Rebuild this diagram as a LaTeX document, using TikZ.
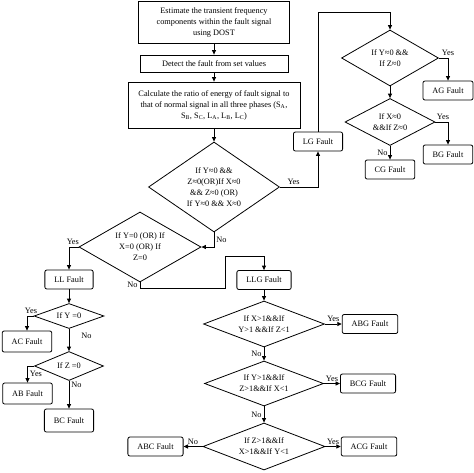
\documentclass[tikz,border=0pt]{standalone}
\usepackage{fontspec}
\setmainfont{Liberation Serif}
\usepackage{tikz}
\usetikzlibrary{arrows.meta}
\usetikzlibrary{shapes.geometric}
\tikzstyle{base}=[font=\fontsize{8.3}{11}\selectfont, align=center]
\tikzstyle{proc}=[base, draw, line width=.8pt, inner sep=0pt]
\tikzstyle{fault}=[base, draw, line width=.8pt, rounded corners=2pt, inner xsep=9.5pt, inner ysep=0pt, minimum height=19pt]
\tikzstyle{decision}=[base, draw, diamond, line width=.8pt, inner sep=0pt]
\tikzstyle{lbl}=[font=\fontsize{8.3}{11}\selectfont, inner sep=2pt]
\tikzstyle{flowhead}=[>/.tip={Triangle[length=4.5pt,width=4pt]}]
\tikzstyle{flow}=[line width=.8pt, flowhead, ->]

\begin{document}
\begin{tikzpicture}[x=1pt, y=-1pt]
	\useasboundingbox (0,0) rectangle (474,472);
	% main column
	\node[proc, minimum width=151pt, minimum height=42pt] (est) at (214,22) {Estimate the transient frequency\\components within the fault signal\\using DOST};
	\node[proc, minimum width=148pt, minimum height=17pt] (det) at (214,63.5) {Detect the fault from set values};
	\node[proc, minimum width=172pt, minimum height=46pt] (calc) at (214,105) {Calculate the ratio of energy of fault signal to\\that of normal signal in all three phases (S\textsubscript{A},\\S\textsubscript{B}, S\textsubscript{C}, L\textsubscript{A}, L\textsubscript{B}, L\textsubscript{C})};
	\node[decision, minimum width=131pt, minimum height=90pt, aspect=1.46] (d1) at (214,187) {If Y≈0 \&\&\\Z≈0(OR)If X≈0\\\&\& Z≈0 (OR)\\If Y≈0 \&\& X≈0};
	% LG branch
	\node[fault] (lg) at (318,141.5) {LG Fault};
	\node[decision, minimum width=97pt, minimum height=56pt, aspect=1.73] (d2) at (390,58) {If Y≈0 \&\&\\If Z≈0};
	\node[fault] (ag) at (448,90.5) {AG Fault};
	\node[decision, minimum width=90pt, minimum height=47pt, aspect=1.9] (d3) at (390,122) {If X≈0\\\&\&If Z≈0};
	\node[fault] (bg) at (448,154.5) {BG Fault};
	\node[fault] (cg) at (390,169.5) {CG Fault};
	% LL branch
	\node[decision, minimum width=122pt, minimum height=70pt, aspect=1.74] (d4) at (140,247) {If Y=0 (OR) If\\X=0 (OR) If\\Z=0};
	\node[fault] (ll) at (69,279.5) {LL Fault};
	\node[decision, minimum width=70pt, minimum height=25pt, aspect=2.8] (d5) at (69,316) {If Y =0};
	\node[fault, minimum height=21pt] (ac) at (27,341.5) {AC Fault};
	\node[decision, minimum width=69pt, minimum height=29pt, aspect=2.4] (d6) at (69,366) {If Z =0};
	\node[fault, minimum height=21pt] (ab) at (27.5,393.5) {AB Fault};
	\node[fault, minimum height=23pt] (bc) at (69,420.5) {BC Fault};
	% LLG branch
	\node[fault] (llg) at (264,280) {LLG Fault};
	\node[decision, minimum width=121pt, minimum height=46pt, aspect=2.63] (d7) at (264,324) {If X>1\&\&If\\Y>1 \&\&If Z<1};
	\node[fault] (abg) at (370,324) {ABG Fault};
	\node[decision, minimum width=119pt, minimum height=45pt, aspect=2.64] (d8) at (264,383.5) {If Y>1\&\&If\\Z>1\&\&If X<1};
	\node[fault] (bcg) at (368,383.5) {BCG Fault};
	\node[decision, minimum width=122pt, minimum height=47pt, aspect=2.6] (d9) at (264,446.5) {If Z>1\&\&If\\X>1\&\&If Y<1};
	\node[fault] (acg) at (369,446.5) {ACG Fault};
	\node[fault] (abc) at (155.5,446.5) {ABC Fault};
	\coordinate (lgtop) at (318,12);
	\coordinate (jog1) at (225,288);
	\coordinate (jog2) at (225,256);

	\draw[flow] (est) -- (det);
	\draw[flow] (det) -- (calc);
	\draw[flow] (calc) -- (d1);
	\draw[flow] (d1.east) -| node[lbl, above, pos=.18] (y1) {Yes} (lg.south);
	\draw[flow] (lg.north) -- (lgtop) -| (d2.north);
	\draw[flow] (d2.east) -| node[lbl, above, pos=.5] (y2) {Yes} (ag.north);
	\draw[flow] (d2) -- (d3);
	\draw[flow] (d3.east) -| node[lbl, above, pos=.3] (y3) {Yes} (bg.north);
	\draw[flow] (d3) -- node[lbl, left] (n3) {No} (cg);
	\draw[flow] (d1.south) |- node[lbl, right, pos=.25] (n1) {No} (d4.east);
	\draw[flow] (d4.west) -| node[lbl, above, pos=.3] (y4) {Yes} (ll.north);
	\draw[flow] (d4.south) |- node[lbl, left, pos=.2] (n4) {No} (jog1) -- (jog2) -| (llg.north);
	\draw[flow] (ll) -- (d5);
	\draw[flow] (d5.west) -| node[lbl, above, pos=.2] (y5) {Yes} (ac.north);
	\draw[flow] (d5) -- node[lbl, right, pos=.3, xshift=10pt] (n5) {No} (d6);
	\draw[flow] (d6.west) -| node[lbl, right, pos=.75] (y6) {Yes} (ab.north);
	\draw[flow] (d6) -- node[lbl, right, pos=.15] (n6) {No} (bc);
	\draw[flow] (llg) -- (d7);
	\draw[flow] (d7) -- node[lbl, above] (y7) {Yes} (abg);
	\draw[flow] (d7) -- node[lbl, left] (n7) {No} (d8);
	\draw[flow] (d8) -- node[lbl, above] (y8) {Yes} (bcg);
	\draw[flow] (d8) -- node[lbl, left] (n8) {No} (d9);
	\draw[flow] (d9) -- node[lbl, above] (y9) {Yes} (acg);
	\draw[flow] (d9) -- node[lbl, above] (n9) {No} (abc);
\end{tikzpicture}
\end{document}
